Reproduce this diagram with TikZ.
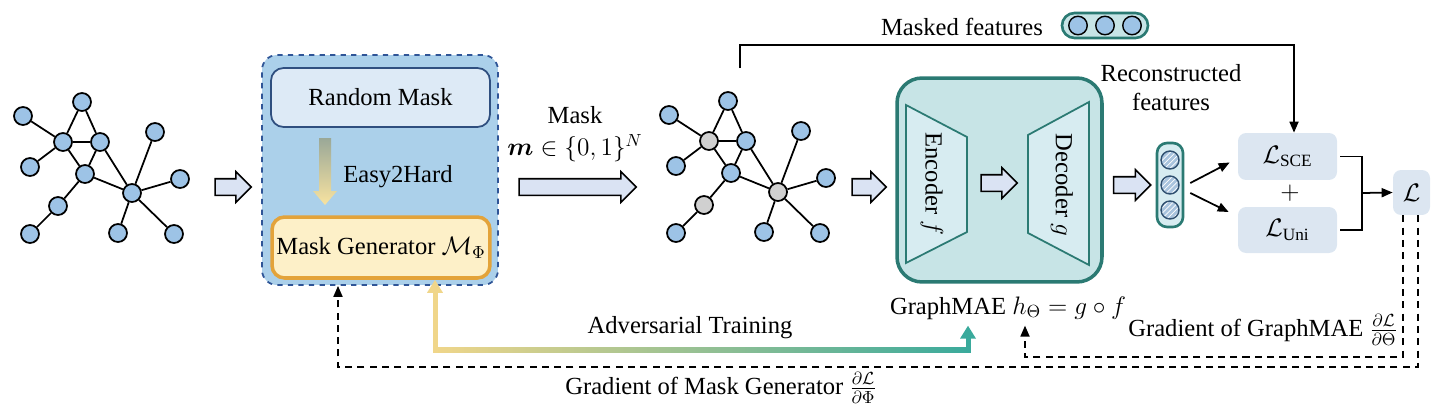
\documentclass[tikz,border=0pt]{standalone}
\usepackage{amsmath,bm}
\usepackage{fontspec}
\setmainfont{Liberation Serif}
\usetikzlibrary{arrows.meta,shapes.arrows,patterns,positioning}

\definecolor{vtxblue}{HTML}{9DC3E6}
\definecolor{vtxgray}{HTML}{D0D0D0}
\definecolor{arrowblue}{HTML}{DAE3F3}
\definecolor{panelblue}{HTML}{ABD0EA}
\definecolor{panelline}{HTML}{2F5597}
\definecolor{rmfill}{HTML}{DDEAF6}
\definecolor{rmline}{HTML}{2F4F7F}
\definecolor{mgfill}{HTML}{FDF0C8}
\definecolor{mgline}{HTML}{E3A33A}
\definecolor{gmfill}{HTML}{C7E4E6}
\definecolor{gmline}{HTML}{2B7A73}
\definecolor{trapfill}{HTML}{D7ECF1}
\definecolor{lossfill}{HTML}{DCE6F1}
\definecolor{featfill}{HTML}{A9C4DE}
\definecolor{featline}{HTML}{2F4F6F}
\definecolor{advyellow}{HTML}{F0D68A}
\definecolor{advmid}{HTML}{E6E8B4}
\definecolor{advteal}{HTML}{3AAA9C}
\definecolor{etopgray}{HTML}{9AA898}
\definecolor{emid}{HTML}{D8D6A6}
\definecolor{ebotyellow}{HTML}{F8E3A0}

\tikzset{
  vtx/.style={circle, draw, line width=1pt, fill=vtxblue, minimum size=0.36cm, inner sep=0},
  gvtx/.style={vtx, fill=vtxgray},
  edge/.style={line width=1pt},
  barrow/.style={single arrow, draw, line width=0.9pt, fill=arrowblue, inner sep=0.15cm,
    single arrow head extend=0.14cm, minimum height=#1},
  panel/.style={draw=panelline, dashed, line width=1pt, fill=panelblue, rounded corners=0.3cm,
    minimum width=4.72cm, minimum height=4.6cm},
  rmbox/.style={draw=rmline, line width=1pt, fill=rmfill, rounded corners=0.25cm,
    minimum width=4.38cm, minimum height=1.18cm},
  mgbox/.style={draw=mgline, line width=2pt, fill=mgfill, rounded corners=0.25cm,
    minimum width=4.36cm, minimum height=1.22cm, inner sep=0},
  gmbox/.style={draw=gmline, line width=2pt, fill=gmfill, rounded corners=0.5cm,
    minimum width=4.1cm, minimum height=4.08cm},
  trap/.style={draw=gmline, line width=1pt, fill=trapfill},
  lossbox/.style={fill=lossfill, rounded corners=0.16cm},
  fcirc/.style={circle, draw=featline, line width=0.8pt, preaction={fill=featfill},
    pattern=north east lines, pattern color=white, minimum size=0.36cm, inner sep=0},
  mcirc/.style={circle, draw, line width=0.8pt, fill=vtxblue, minimum size=0.37cm, inner sep=0},
  arr/.style={line width=1pt, -{Triangle[length=0.22cm, width=0.18cm]}},
  dasharr/.style={arr, dash pattern=on 4pt off 3pt},
  advarr/.style={line width=0.1cm, -{Triangle[length=0.26cm, width=0.3cm]}}
}

\begin{document}
\begin{tikzpicture}[x=0.02cm, y=-0.02cm, font=\fontsize{14}{17}\selectfont]
  \useasboundingbox (0,0) rectangle (1440,416);

  % input graph
  \foreach \n/\x/\y in {1/82/102, 2/23/116, 3/63/142, 4/100/142, 5/30/167, 6/85/174, 7/132/193,
      8/155/132, 9/180/179, 10/58/206, 11/30/234, 12/118/233, 13/174/234}
    \node[vtx] (a\n) at (\x,\y) {};
  % masked graph
  \foreach \n/\x/\y/\s in {1/728/101/vtx, 2/669/115/vtx, 3/709/141/gvtx, 4/746/141/vtx, 5/676/166/vtx,
      6/731/173/vtx, 7/778/192/gvtx, 8/801/131/vtx, 9/826/178/vtx, 10/704/205/gvtx, 11/676/233/vtx,
      12/764/232/vtx, 13/820/233/vtx}
    \node[\s] (b\n) at (\x,\y) {};
  \foreach \u/\v in {1/3, 1/4, 2/3, 3/4, 3/5, 3/6, 4/6, 4/7, 6/7, 6/10, 10/11, 7/8, 7/9, 7/12, 7/13} {
    \draw[edge] (a\u) -- (a\v);
    \draw[edge] (b\u) -- (b\v);
  }

  \node[barrow=0.72cm] (arr1) at (229,187) {};

  % mask generator
  \node[panel] (panel) at (380,170) {};
  \node[rmbox] (randmask) at (380.5,97.5) {Random Mask};
  \node[mgbox] (maskgen) at (381,247.5) {Mask Generator $\mathcal{M}_{\Phi}$};
  \shade[top color=etopgray, middle color=emid, bottom color=ebotyellow]
    (319,138) -- (331,138) -- (331,191) -- (337,191) -- (325,205) -- (313,191) -- (319,191) -- cycle;
  \node (e2h) at (398,177) {Easy2Hard};

  \node[barrow=2.34cm] (arr2) at (573.5,187) {};
  \node[align=center, font=\fontsize{14}{18}\selectfont] (masklbl) at (575,134)
    {Mask\\$\bm{m} \in \{0,1\}^{N}$};

  \node[barrow=0.68cm] (arr3) at (865,187) {};

  % GraphMAE
  \node[gmbox] (gmae) at (999.5,180) {};
  \draw[trap] (906,105) -- (967,137) -- (967,232) -- (906,263) -- cycle;
  \draw[trap] (1028,135) -- (1089,102) -- (1089,265) -- (1028,233) -- cycle;
  \node[rotate=-90] (enc) at (932,184) {Encoder $f$};
  \node[rotate=-90] (dec) at (1062,185) {Decoder $g$};
  \node[barrow=0.72cm] (arr4) at (995,183) {};
  \node (gmaelbl) at (1008,308) {GraphMAE $h_{\Theta} = g \circ f$};

  \node[barrow=0.74cm] (arr5) at (1128,185) {};

  % features
  \node[align=center, font=\fontsize{14}{16.5}\selectfont] (reclbl) at (1171,88) {Reconstructed\\features};
  \node[draw=gmline, line width=1.5pt, fill=trapfill, rounded corners=0.2cm,
    minimum width=0.52cm, minimum height=1.68cm] (featcol) at (1170,185) {};
  \foreach \i/\y in {1/160, 2/185, 3/210}
    \node[fcirc] (rf\i) at (1170,\y) {};

  \node (masklbl2) at (962,27) {Masked features};
  \node[draw=gmline, line width=1.5pt, fill=gmfill, rounded corners=0.25cm,
    minimum width=1.72cm, minimum height=0.5cm] (mpill) at (1105,25.5) {};
  \foreach \i/\x in {1/1078, 2/1105, 3/1132}
    \node[mcirc] (mf\i) at (\x,25.5) {};

  % losses
  \node[lossbox, minimum width=1.98cm, minimum height=0.94cm] (sce) at (1287.5,156.5) {$\mathcal{L}_{\mathrm{SCE}}$};
  \node[lossbox, minimum width=1.98cm, minimum height=0.92cm] (uni) at (1287.5,230) {$\mathcal{L}_{\mathrm{Uni}}$};
  \node (plus) at (1290,193) {$+$};
  \node[lossbox, minimum width=0.74cm, minimum height=0.9cm] (loss) at (1411.5,192.5) {$\mathcal{L}$};

  \coordinate (mtap) at (740,68);
  \coordinate (mtop) at (740,45);
  \draw[arr] (mtap) -- (mtop) -| ([xshift=0.13cm]sce.north);

  \draw[arr] ([xshift=0.12cm,yshift=0.04cm]featcol.east) -- ([xshift=-0.16cm,yshift=-0.12cm]sce.west);
  \draw[arr] ([xshift=0.12cm,yshift=-0.16cm]featcol.east) -- ([xshift=-0.18cm,yshift=0.36cm]uni.west);

  \coordinate (bkt) at (1362,193);
  \draw[line width=1pt] ([xshift=0.06cm]sce.east) -| (bkt) |- ([xshift=0.06cm]uni.east);
  \draw[arr] (bkt) -- (loss.west);

  % adversarial training
  \shade[left color=advyellow, middle color=advmid, right color=advteal] (433,347.5) rectangle (970,352.5);
  \coordinate (advl) at (435,352.5);
  \coordinate (advr) at (968,352.5);
  \draw[advarr, advyellow] (advl) -- (advl |- maskgen.south);
  \draw[advarr, advteal] (advr) -- (advr |- gmaelbl.south);
  \node (advlbl) at (690,328) {Adversarial Training};

  % gradients
  \coordinate (gin) at (1025,357);
  \coordinate (gout) at (338,367);
  \draw[dasharr] ([xshift=-0.17cm]loss.south) |- (gin) -- (gin |- gmaelbl.south);
  \draw[dasharr] ([xshift=0.13cm]loss.south) |- (gout) -- (gout |- panel.south);
  \node (gradg) at (1263,330) {Gradient of GraphMAE $\frac{\partial\mathcal{L}}{\partial\Theta}$};
  \node (gradm) at (721,388) {Gradient of Mask Generator $\frac{\partial\mathcal{L}}{\partial\Phi}$};
\end{tikzpicture}
\end{document}
